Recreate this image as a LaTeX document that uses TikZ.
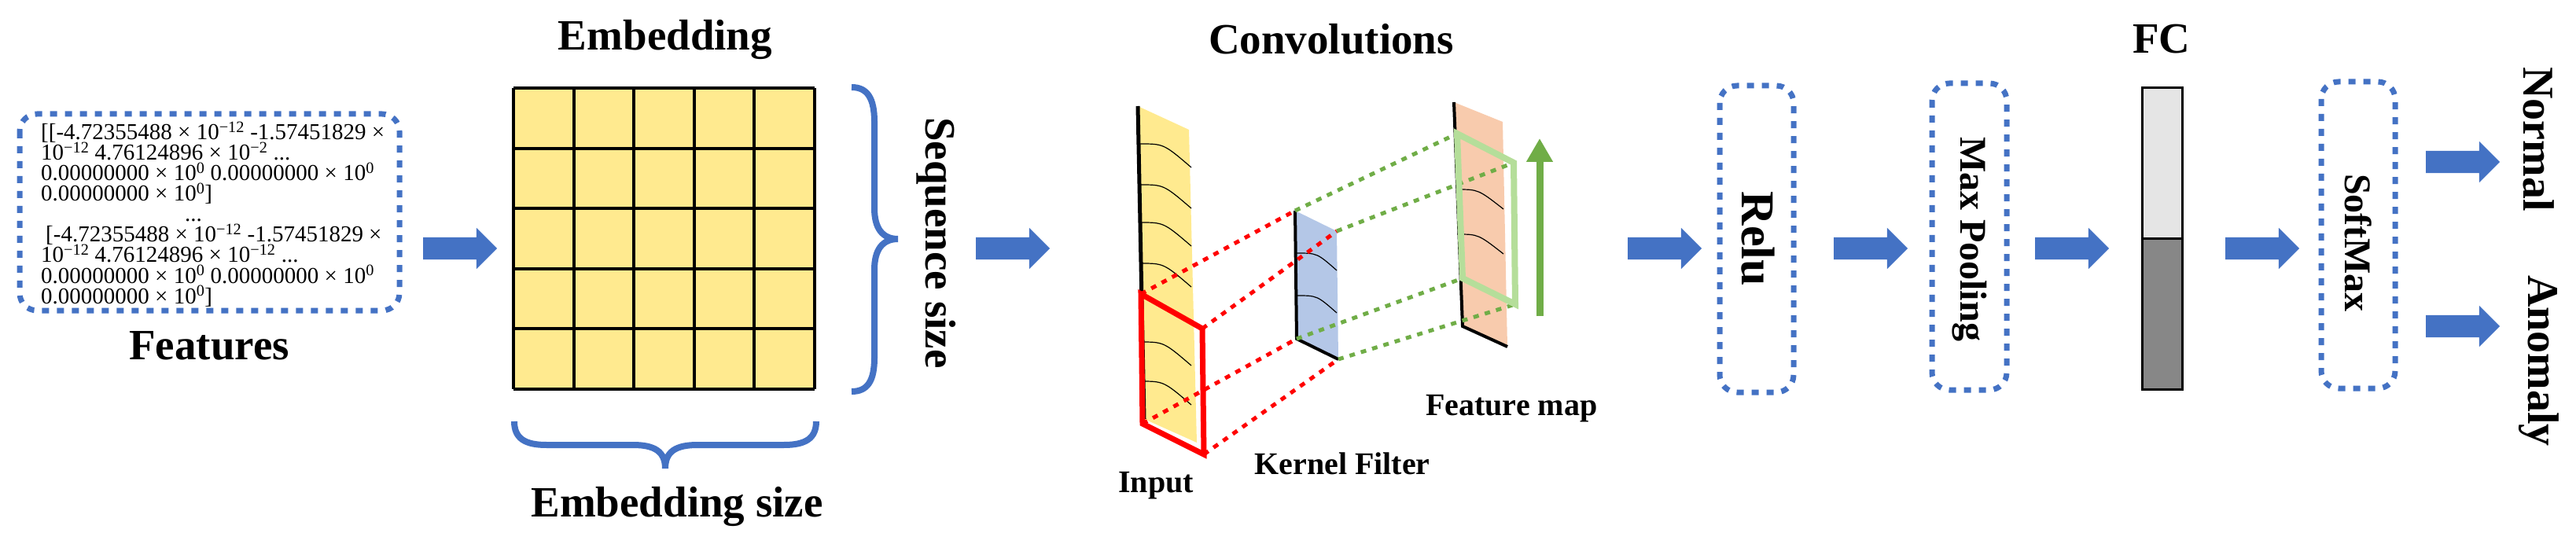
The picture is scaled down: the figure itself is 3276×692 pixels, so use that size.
\documentclass[tikz,border=0pt]{standalone}
\usepackage{fontspec}
\setmainfont{Liberation Serif}
\usetikzlibrary{shapes.arrows,arrows.meta}
\definecolor{bl}{HTML}{4472C4}
\definecolor{yl}{HTML}{FFEA8F}
\definecolor{kb}{HTML}{B4C7E7}
\definecolor{fo}{HTML}{F8CBAD}
\definecolor{gr}{HTML}{70AD47}
\definecolor{lg}{HTML}{B5DE9A}
\begin{document}
\begin{tikzpicture}[x=1pt,y=-1pt,
  big/.style={font=\fontsize{55}{60}\selectfont\bfseries, inner sep=0},
  mid/.style={font=\fontsize{48}{52}\selectfont\bfseries, inner sep=0, rotate=-90},
  small/.style={font=\fontsize{40}{44}\selectfont\bfseries, inner sep=0},
  num/.style={font=\fontsize{29}{30}\selectfont, inner sep=0, anchor=base west},
  dotbox/.style={draw=bl, line width=7, dash pattern=on 9 off 10, rounded corners=22},
  barr/.style={single arrow, fill=bl, draw=none, minimum width=52, minimum height=94,
     text height=28pt, text depth=0pt, text width=1pt,
     single arrow head extend=12, inner sep=0, shape border rotate=0},
  rdot/.style={red, line width=5, dash pattern=on 7 off 8},
  gdot/.style={gr, line width=5, dash pattern=on 7 off 8},
  bars/.style={draw=black, line width=1},
  bline/.style={black, line width=1.2},
  brace/.style={bl, line width=8}]
\useasboundingbox (0,0) rectangle (3276,692);
% Features
\draw[dotbox] (25,145) rectangle (508,395);
\node[num] (f1) at (52,178) {[[-4.72355488 × 10\textsuperscript{−12} -1.57451829 ×};
\node[num] (f2) at (52,204) {10\textsuperscript{−12} 4.76124896 × 10\textsuperscript{−2} ...};
\node[num] (f3) at (52,230) {0.00000000 × 10\textsuperscript{0} 0.00000000 × 10\textsuperscript{0}};
\node[num] (f4) at (52,256) {0.00000000 × 10\textsuperscript{0}]};
\node[num] (f5) at (235,282) {...};
\node[num] (f6) at (58,308) {[-4.72355488 × 10\textsuperscript{−12} -1.57451829 ×};
\node[num] (f7) at (52,334) {10\textsuperscript{−12} 4.76124896 × 10\textsuperscript{−12} ...};
\node[num] (f8) at (52,360) {0.00000000 × 10\textsuperscript{0} 0.00000000 × 10\textsuperscript{0}};
\node[num] (f9) at (52,386) {0.00000000 × 10\textsuperscript{0}]};
\node[big] (feat) at (266,440) {Features};
% arrows
\node[barr] (a1) at (578,316) {};
\node[barr] (a2) at (1281,316) {};
\node[barr] (a3) at (2110,316) {};
\node[barr] (a4) at (2372,316) {};
\node[barr] (a5) at (2628,316) {};
\node[barr] (a6) at (2870,316) {};
\node[barr] (a7) at (3125,206) {};
\node[barr] (a8) at (3125,415) {};
% Embedding
\node[big] (emb) at (846,50) {Embedding};
\fill[yl] (653,112) rectangle (1036,495);
\foreach \i in {0,...,5}{
  \draw[line width=4] (653+76.6*\i,112) -- (653+76.6*\i,495);
  \draw[line width=4] (653,112+76.6*\i) -- (1036,112+76.6*\i);}
\draw[brace] (1083,111) .. controls (1103,111) and (1112,125) .. (1112,155) -- (1112,265)
   .. controls (1112,290) and (1122,304) .. (1142,304)
   .. controls (1122,304) and (1112,318) .. (1112,343) -- (1112,455)
   .. controls (1112,485) and (1103,498) .. (1083,498);
\node[mid, font=\fontsize{55}{60}\selectfont\bfseries] (seq) at (1191,309) {Sequence size};
\draw[brace] (654,536) .. controls (654,558) and (668,566) .. (695,566) -- (805,566)
   .. controls (832,566) and (846,574) .. (846,596)
   .. controls (846,574) and (860,566) .. (887,566) -- (997,566)
   .. controls (1024,566) and (1038,558) .. (1038,536);
\node[big] (embs) at (861,644) {Embedding size};
% Convolutions
\node[big] (conv) at (1693,50) {Convolutions};
\fill[yl] (1447,135) -- (1512,165) -- (1522,563) -- (1455,533) -- cycle;
\draw[line width=5] (1447,135) -- (1455,533);
\foreach \y in {183,235,283,335,435,485}
  \draw[bline] (1450,\y) .. controls (1480,\y) .. (1515,\y+30);
\fill[kb] (1647,268) -- (1700,294) -- (1702,457) -- (1649,431) -- cycle;
\draw[line width=4] (1647,268) -- (1649,431) -- (1702,457);
\foreach \y in {322,376}
  \draw[bline] (1649,\y) .. controls (1675,\y) .. (1700,\y+22);
\fill[fo] (1849,130) -- (1911,155) -- (1917,441) -- (1860,415) -- cycle;
\draw[line width=4] (1849,130) -- (1860,415) -- (1917,441);
\foreach \y in {241,298}
  \draw[bline] (1853,\y) .. controls (1880,\y) .. (1912,\y+25);
\coordinate (rTL) at (1451,374); \coordinate (rTR) at (1529,418);
\coordinate (rBR) at (1531,578); \coordinate (rBL) at (1453,539);
\coordinate (kTL) at (1647,268); \coordinate (kTR) at (1700,294);
\coordinate (kBR) at (1702,457); \coordinate (kBL) at (1649,431);
\coordinate (gTL) at (1853,170); \coordinate (gTR) at (1925,207);
\coordinate (gBR) at (1927,387); \coordinate (gBL) at (1860,354);
\draw[rdot] (rTL) -- (kTL); \draw[rdot] (rTR) -- (kTR);
\draw[rdot] (rBL) -- (kBL); \draw[rdot] (rBR) -- (kBR);
\draw[gdot] (kTL) -- (gTL); \draw[gdot] (kTR) -- (gTR);
\draw[gdot] (kBL) -- (gBL); \draw[gdot] (kBR) -- (gBR);
\draw[red, line width=7] (rTL) -- (rTR) -- (rBR) -- (rBL) -- cycle;
\draw[lg, line width=8] (gTL) -- (gTR) -- (gBR) -- (gBL) -- cycle;
\coordinate (ga1) at (1958,402); \coordinate (ga2) at (1958,176);
\draw[gr, line width=9, -{Triangle[length=30pt,width=32pt]}] (ga1) -- (ga2);
\node[small] (inp) at (1470,618) {Input};
\node[small] (kf) at (1707,590) {Kernel Filter};
\node[small, anchor=west] (fm) at (1813,520) {Feature map};
% right part
\draw[dotbox] (2187,109) rectangle (2281,499);
\node[mid, font=\fontsize{60}{64}\selectfont\bfseries] (relu) at (2236,304) {Relu};
\draw[dotbox] (2457,106) rectangle (2552,496);
\node[mid] (mp) at (2505,304) {Max Pooling};
\node[big] (fc) at (2749,50) {FC};
\draw[bars, fill=black!10, line width=3] (2724,112) rectangle (2775,304);
\draw[bars, fill=black!47, line width=3] (2724,304) rectangle (2775,495);
\draw[dotbox] (2952,104) rectangle (3046,494);
\node[mid] (sm) at (2999,309) {SoftMax};
\node[mid, font=\fontsize{56}{60}\selectfont\bfseries] (nor) at (3229,177) {Normal};
\node[mid, font=\fontsize{56}{60}\selectfont\bfseries] (ano) at (3229,459) {Anomaly};
\end{tikzpicture}
\end{document}
